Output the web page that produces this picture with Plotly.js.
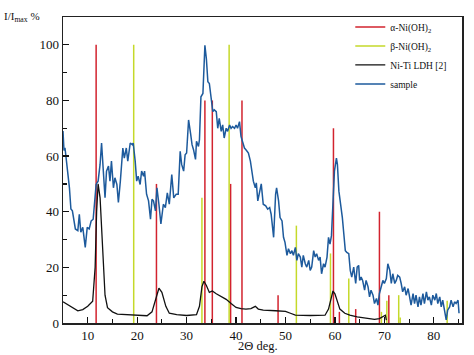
<!DOCTYPE html>
<html>
<head>
<meta charset="utf-8">
<script src="https://cdn.plot.ly/plotly-3.0.1.min.js"></script>
<style>html,body{margin:0;padding:0;background:#fff;}#chart{width:474px;height:355px;}</style>
</head>
<body>
<div id="chart"></div>
<script>
// alpha-Ni(OH)2 reference peaks
const alphaPos = [11.7, 23.9, 33.7, 35.2, 38.9, 41.2, 48.5, 59.7, 60.9, 64.2, 69.0, 70.9];
const alphaInt = [100, 50, 80, 80, 50, 80, 10, 70, 4, 5, 40, 10];
// beta-Ni(OH)2 reference peaks
const betaPos = [19.3, 33.1, 38.6, 52.2, 59.1, 62.8, 69.4, 70.5, 72.9, 73.2, 82.7];
const betaInt = [100, 45, 100, 35, 25, 16, 4, 8, 10, 2, 8];
// Ni-Ti LDH [2]
const ldhX = [5, 6, 7, 8, 9, 10, 11, 11.5, 11.8, 12.1, 12.5, 13, 13.5, 14, 15, 16, 18, 20, 21, 22, 23, 23.8, 24.4, 25, 25.8, 26.5, 28, 30, 32, 32.6, 33.1, 33.5, 34, 34.6, 35.2, 36, 37, 38, 39, 40, 41, 42, 43, 43.9, 44.5, 45.5, 48, 50, 51, 52, 55, 58, 58.7, 59.2, 59.6, 60, 60.5, 61, 62, 63, 64.5, 66, 68, 69, 69.8, 70.2, 70.4];
const ldhY = [7.6, 6.5, 5.2, 4.4, 4.8, 6, 7.8, 20, 40, 50, 45, 25, 10, 5.5, 4, 3.2, 3, 2.8, 2.5, 2.6, 4, 9, 12.5, 11, 6, 3.5, 3, 2.7, 3, 6, 13, 15, 13.5, 11, 11.5, 10.5, 9.6, 8.5, 7, 5.6, 5.2, 5, 5.2, 6, 5, 4.6, 4.4, 4.2, 3.5, 2.8, 2.7, 2.8, 5, 8.5, 11.5, 10.5, 7.5, 5, 3.5, 2.8, 2.2, 1.8, 1.3, 1.6, 2.5, 2.8, 1];
// sample
const sampleX = [5.0, 5.2, 5.4, 5.6, 5.9, 6.3, 6.6, 6.9, 7.5, 8.0, 8.3, 8.6, 9.0, 9.5, 9.9, 10.3, 10.7, 11.1, 11.7, 12.1, 12.5, 12.8, 13.2, 13.5, 13.8, 14.2, 14.5, 14.8, 15.2, 15.5, 15.9, 16.2, 16.6, 17.1, 17.4, 17.8, 18.1, 18.6, 19.0, 19.2, 19.6, 19.9, 20.2, 20.6, 20.9, 21.3, 21.5, 21.9, 22.3, 22.7, 23.0, 23.3, 23.7, 24.0, 24.4, 24.8, 25.3, 25.7, 26.1, 26.5, 27.0, 27.4, 27.9, 28.3, 28.7, 29.0, 29.4, 29.7, 30.0, 30.4, 30.8, 31.1, 31.4, 31.8, 32.0, 32.4, 32.6, 32.9, 33.3, 33.5, 33.7, 34.0, 34.3, 34.6, 35.0, 35.3, 35.6, 36.0, 36.3, 36.6, 37.0, 37.3, 37.6, 38.0, 38.3, 38.7, 39.0, 39.3, 39.7, 40.0, 40.3, 40.7, 41.0, 41.4, 41.7, 42.0, 42.5, 42.9, 43.2, 43.5, 43.9, 44.1, 44.4, 44.7, 45.1, 45.5, 46.0, 46.4, 46.8, 47.1, 47.6, 48.0, 48.2, 48.6, 48.9, 49.3, 49.6, 49.9, 50.3, 50.6, 51.0, 51.3, 51.6, 52.0, 52.3, 52.6, 53.0, 53.3, 53.6, 54.0, 54.3, 54.7, 55.0, 55.3, 55.7, 56.0, 56.3, 56.7, 57.0, 57.3, 57.7, 58.0, 58.4, 58.7, 59.0, 59.3, 59.6, 59.9, 60.3, 60.5, 60.8, 61.1, 61.5, 61.8, 62.1, 62.4, 62.8, 63.1, 63.4, 63.8, 64.2, 64.5, 64.8, 65.0, 65.3, 65.6, 66.0, 66.3, 66.7, 67.0, 67.3, 67.7, 68.0, 68.4, 68.7, 69.0, 69.4, 69.7, 70.0, 70.4, 70.7, 71.1, 71.4, 71.7, 72.1, 72.4, 72.7, 73.1, 73.4, 73.7, 74.1, 74.4, 74.8, 75.1, 75.4, 75.8, 76.1, 76.4, 76.8, 77.1, 77.4, 77.8, 78.1, 78.5, 78.8, 79.1, 79.5, 79.8, 80.2, 80.5, 80.8, 81.2, 81.5, 81.8, 82.2, 82.5, 82.8, 83.2, 83.5, 83.9, 84.2, 84.5, 84.9, 85.1];
const sampleY = [69, 62, 63, 60, 54.6, 48.6, 41, 40.3, 33.8, 33.2, 39.1, 32.6, 34.4, 27.2, 34.4, 33.8, 36.7, 37.3, 49.8, 51, 57, 64.7, 53.4, 45, 54.6, 56.4, 51, 58.2, 48.6, 52.2, 49.8, 43.3, 51, 62.9, 59.3, 62.9, 58.2, 64.7, 64.1, 64.7, 58.2, 51, 52.8, 49.8, 54.6, 52.8, 54.6, 46.3, 43.9, 37.3, 44.5, 43.9, 40.3, 48.6, 42.7, 35.6, 42.7, 41.5, 46.8, 42.7, 53.4, 45, 46.3, 46.3, 61.7, 57, 54.6, 60.5, 61.1, 73, 68.2, 64.1, 62.3, 58.8, 65.3, 63.5, 65.9, 81.3, 82.5, 92.6, 99.8, 95, 86.7, 86.1, 80.7, 76, 76.6, 76, 70, 73.6, 68.9, 71.2, 66.5, 70, 68.9, 71.2, 70, 70.6, 70, 71.2, 70, 72.4, 67.1, 64.1, 62.9, 62.3, 61.1, 58.2, 54.6, 51, 48.6, 50.4, 43.9, 46.8, 50, 42.7, 42.1, 40.9, 41.5, 39.1, 30.8, 46.3, 48.6, 43.9, 37.9, 36.7, 30.8, 29, 24.3, 26.7, 24.9, 26, 24.3, 27.2, 22.5, 24.9, 23.7, 20.1, 24.3, 21.3, 20.1, 22.5, 18.9, 20.1, 26, 23.7, 24.9, 22.5, 23.7, 17.7, 21.3, 20.1, 23.7, 30.8, 28.4, 31.4, 42.7, 54.6, 59.3, 57, 47.4, 43.9, 37.9, 32, 26, 25.4, 24.9, 18.9, 16.5, 20.1, 14.2, 20.1, 20.7, 15.3, 16.5, 15.3, 11.8, 15.3, 13, 9.4, 11.8, 10, 7, 8.8, 6.4, 10.6, 13, 15.3, 14.2, 16, 21.3, 18.9, 14.2, 17.7, 14.2, 15.3, 17.1, 16.5, 14.2, 11.2, 13, 10, 12.4, 9.4, 6.4, 10.6, 7, 10, 5.8, 9.4, 6.4, 10.6, 7, 11.2, 8.2, 9.4, 6.4, 10, 8.2, 10.6, 7, 9.4, 5.8, 8.2, 4.6, 1.1, 4.6, 5.8, 8.2, 5.8, 7.6, 7, 8.2, 3.5];

function sticks(pos, val) {
  const x = [], y = [];
  for (let i = 0; i < pos.length; i++) {
    x.push(pos[i], pos[i], null);
    y.push(0, val[i], null);
  }
  return {x, y};
}
const a = sticks(alphaPos, alphaInt);
const b = sticks(betaPos, betaInt);

const FONT = 'Liberation Serif, Times New Roman, serif';
const traces = [
  {x: a.x, y: a.y, mode: 'lines', name: 'α-Ni(OH)<sub>2</sub>', line: {color: '#d2232e', width: 1.5}},
  {x: b.x, y: b.y, mode: 'lines', name: 'β-Ni(OH)<sub>2</sub>', line: {color: '#c5d92a', width: 1.5}},
  {x: ldhX, y: ldhY, mode: 'lines', name: 'Ni-Ti LDH [2]', line: {color: '#111111', width: 1.3}},
  {x: sampleX, y: sampleY, mode: 'lines', name: 'sample', line: {color: '#1d5a9c', width: 1.5}}
];

const layout = {
  width: 474, height: 355,
  margin: {l: 63, r: 12, t: 15, b: 32},
  paper_bgcolor: '#fff', plot_bgcolor: '#fff',
  font: {family: FONT, size: 13, color: '#111'},
  showlegend: true,
  legend: {x: 0.72, y: 1.015, xanchor: 'left', yanchor: 'top', bgcolor: 'rgba(0,0,0,0)',
           font: {family: FONT, size: 9.5, color: '#111'}, itemwidth: 30, tracegroupgap: 0},
  xaxis: {range: [5, 85.7], tickvals: [10, 20, 30, 40, 50, 60, 70, 80], ticks: 'inside', ticklen: 6,
          tickwidth: 1.2, tickcolor: '#111', showgrid: false, zeroline: false, showline: true,
          linecolor: '#222', linewidth: 1.5, mirror: true,
          minor: {dtick: 5, tick0: 0, ticks: 'inside', ticklen: 4, tickcolor: '#111', showgrid: false},
          tickfont: {family: FONT, size: 13, color: '#111'}},
  yaxis: {range: [0, 110], tickvals: [0, 20, 40, 60, 80, 100], ticks: 'inside', ticklen: 6,
          tickwidth: 1.2, tickcolor: '#111', showgrid: false, zeroline: false, showline: true,
          linecolor: '#222', linewidth: 1.5, mirror: true,
          minor: {dtick: 10, tick0: 0, ticks: 'inside', ticklen: 4, tickcolor: '#111', showgrid: false},
          tickfont: {family: FONT, size: 13, color: '#111'}},
  annotations: [
    {text: 'I/I<sub>max</sub> %', xref: 'paper', yref: 'paper', x: -0.153, y: 1.0, xanchor: 'left', yanchor: 'middle',
     showarrow: false, font: {family: FONT, size: 11, color: '#111'}},
    {text: '2Θ deg.', xref: 'paper', yref: 'paper', x: 0.488, y: -0.1023, xanchor: 'center', yanchor: 'bottom',
     showarrow: false, borderpad: 0, font: {family: FONT, size: 12.5, color: '#111'}}
  ]
};

Plotly.newPlot('chart', traces, layout, {displayModeBar: false, staticPlot: true});
</script>
</body>
</html>
